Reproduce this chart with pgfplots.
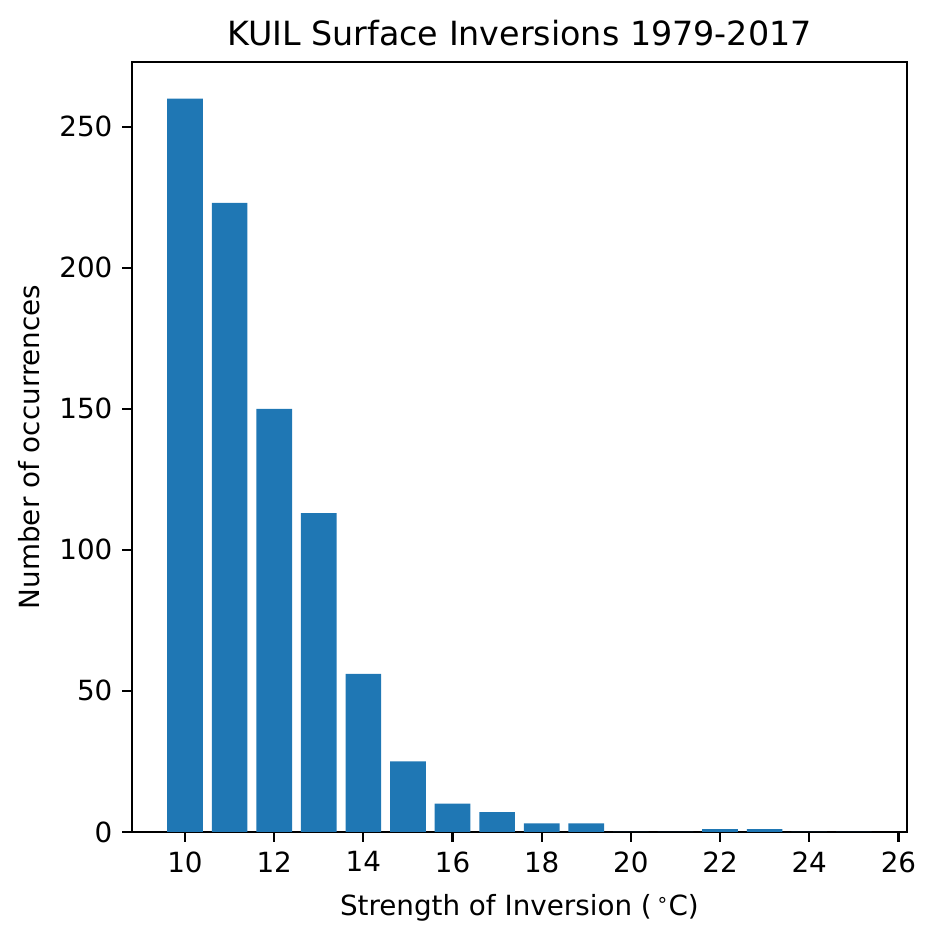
\documentclass[border=0pt]{standalone}
\usepackage{pgfplots}
\pgfplotsset{compat=1.18}
\usepackage{fontspec}
\setmainfont{DejaVu Sans}
\definecolor{mplblue}{HTML}{1F77B4}
\begin{document}
\begin{tikzpicture}
\path[use as bounding box] (-47.5pt,-40pt) rectangle (289pt,299.5pt);
\begin{axis}[
  at={(0,0)}, anchor=south west,
  scale only axis,
  width=279pt, height=277.2pt,
  xmin=8.81, xmax=26.19,
  ymin=0, ymax=273,
  xtick={10,12,...,26},
  ytick={0,50,...,250},
  tick pos=left,
  tick align=outside,
  major tick length=3.5pt,
  every tick/.style={line width=0.8pt, black},
  axis line style={line width=0.8pt},
  /pgf/number format/assume math mode=true,
  tick label style={font=\fontsize{10}{12}\selectfont},
  label style={font=\fontsize{10}{12}\selectfont},
  every axis title shift=0pt,
  title style={font=\fontsize{12}{14}\selectfont, at={(0.5,1)}, anchor=base, yshift=6pt},
  title={KUIL Surface Inversions 1979-2017},
  xlabel={Strength of Inversion (\,\raisebox{0.6ex}{\scriptsize∘}C)},
  xlabel style={yshift=-1pt},
  ylabel={Number of occurrences},
  ybar, bar width=0.8,
  clip=false,
]
\addplot[fill=mplblue, draw=none] coordinates {
(10,260) (11,223) (12,150) (13,113) (14,56) (15,25) (16,10) (17,7)
(18,3) (19,3) (20,0) (21,0) (22,1) (23,1) (24,0) (25,0)
};
\end{axis}
\end{tikzpicture}
\end{document}
